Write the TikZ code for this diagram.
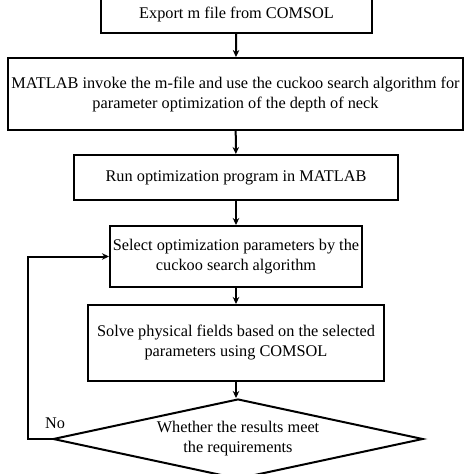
\documentclass[tikz,border=0pt]{standalone}
\usepackage{fontspec}
\setmainfont{Liberation Serif}
\usetikzlibrary{shapes.geometric,arrows.meta}
\begin{document}
\begin{tikzpicture}[x=1pt,y=-1pt,
  box/.style={draw,line width=2pt,inner sep=0pt,align=center,font=\fontsize{16.3}{20}\selectfont},
  arr/.style={line width=2pt,-{Stealth[length=7pt,width=6.5pt]}},
  lbl/.style={font=\fontsize{16.3}{20}\selectfont,inner sep=0pt}]
\useasboundingbox (0,0) rectangle (474,474);
\node[box,minimum width=271pt,minimum height=38pt] (b1) at (236.5,14) {Export m file from COMSOL};
\node[box,minimum width=455pt,minimum height=72pt] (b2) at (235.5,94) {MATLAB invoke the m-file and use the cuckoo search algorithm for\\parameter optimization of the depth of neck};
\node[box,minimum width=324pt,minimum height=45pt] (b3) at (236,177.5) {Run optimization program in MATLAB};
\node[box,minimum width=252pt,minimum height=61pt] (b4) at (236,256.5) {Select optimization parameters by the\\cuckoo search algorithm};
\node[box,minimum width=296pt,minimum height=76pt] (b5) at (236,343) {Solve physical fields based on the selected\\parameters using COMSOL};
\node[box,diamond,aspect=4.6,minimum width=370pt,minimum height=80pt,inner sep=-8pt] (d) at (238,439) {Whether the results meet\\the requirements};
\node[lbl] (no) at (55,423) {No};
\draw[arr] (b1) -- (b2);
\draw[arr] (b2) -- (b3);
\draw[arr] (b3) -- (b4);
\draw[arr] (b4) -- (b5);
\draw[arr] (b5) -- (b5.south |- d.north);
\coordinate (c1) at (28,439);
\draw[arr] (d.west) -- (c1) |- (b4.west);
\end{tikzpicture}
\end{document}
